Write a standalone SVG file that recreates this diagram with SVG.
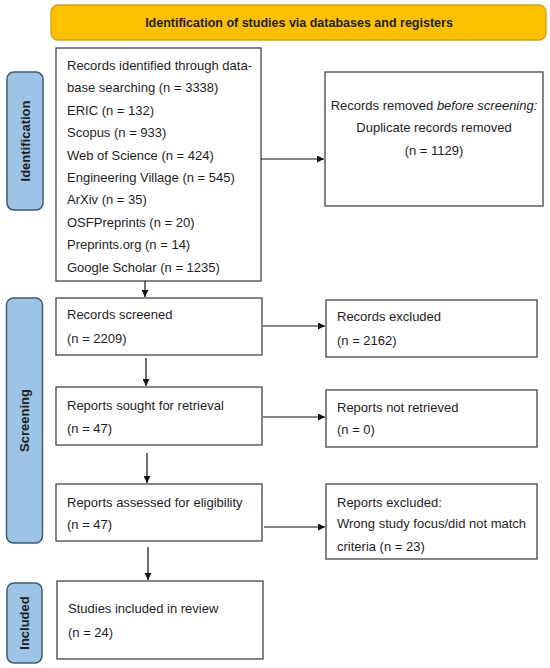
<svg xmlns="http://www.w3.org/2000/svg" width="550" height="668" viewBox="0 0 550 668">
<defs>
<marker id="ah" viewBox="0 0 10 10" refX="10" refY="5" markerWidth="7" markerHeight="7" markerUnits="userSpaceOnUse" orient="auto">
<path d="M0,0 L10,5 L0,10 z" fill="#111"/>
</marker>
<style>
.box{fill:#fff;stroke:#444;stroke-width:1.3}
.side{fill:#9DC3E6;stroke:#3F5873;stroke-width:1.5}
.hdr{fill:#FFC000;stroke:#D1A21A;stroke-width:1.3}
text{font-family:"Liberation Sans",Arial,sans-serif;font-size:13px;fill:#1e1e1e}
.b{font-weight:bold}
.c{text-anchor:middle}
.conn{stroke:#111;stroke-width:1.2;fill:none;marker-end:url(#ah)}
</style>
</defs>
<rect width="550" height="668" fill="#fff"/>
<g id="header">
<rect class="hdr" x="51" y="5" width="495" height="35" rx="7"/>
<text class="b c" x="299" y="27" style="font-size:12.5px">Identification of studies via databases and registers</text>
</g>
<g id="side-identification">
<rect class="side" x="7" y="72" width="36" height="138" rx="7"/>
<text class="b c" transform="translate(29.5,141) rotate(-90)">Identification</text>
</g>
<g id="side-screening">
<rect class="side" x="6.5" y="298" width="36" height="245" rx="7"/>
<text class="b c" transform="translate(29,420.5) rotate(-90)">Screening</text>
</g>
<g id="side-included">
<rect class="side" x="7" y="583" width="35" height="80" rx="7"/>
<text class="b c" transform="translate(29,623) rotate(-90)">Included</text>
</g>
<g id="records-identified">
<rect class="box" x="56" y="48" width="205" height="233"/>
<text x="67" y="70">Records identified through data-</text>
<text x="67" y="92.4">base searching (n = 3338)</text>
<text x="67" y="114.8">ERIC (n = 132)</text>
<text x="67" y="137.2">Scopus (n = 933)</text>
<text x="67" y="159.6">Web of Science (n = 424)</text>
<text x="67" y="182">Engineering Village (n = 545)</text>
<text x="67" y="204.4">ArXiv (n = 35)</text>
<text x="67" y="226.8">OSFPreprints (n = 20)</text>
<text x="67" y="249.2">Preprints.org (n = 14)</text>
<text x="67" y="271.6">Google Scholar (n = 1235)</text>
</g>
<g id="records-removed">
<rect class="box" x="325" y="72" width="218" height="134"/>
<text class="c" x="434" y="109.5">Records removed <tspan font-style="italic">before screening:</tspan></text>
<text class="c" x="434" y="132">Duplicate records removed</text>
<text class="c" x="434" y="154.5">(n = 1129)</text>
</g>
<g id="records-screened">
<rect class="box" x="56" y="298" width="206" height="57"/>
<text x="67" y="318.5">Records screened</text>
<text x="67" y="342.5">(n = 2209)</text>
</g>
<g id="records-excluded">
<rect class="box" x="326" y="300" width="211" height="57"/>
<text x="337" y="320.5">Records excluded</text>
<text x="337" y="344.5">(n = 2162)</text>
</g>
<g id="reports-sought">
<rect class="box" x="56" y="387" width="206" height="58"/>
<text x="67" y="409.5">Reports sought for retrieval</text>
<text x="67" y="432.5">(n = 47)</text>
</g>
<g id="reports-not-retrieved">
<rect class="box" x="326" y="390" width="211" height="57"/>
<text x="337" y="411.5">Reports not retrieved</text>
<text x="337" y="433.5">(n = 0)</text>
</g>
<g id="reports-assessed">
<rect class="box" x="56" y="484" width="206" height="57"/>
<text x="67" y="506.5">Reports assessed for eligibility</text>
<text x="67" y="528.5">(n = 47)</text>
</g>
<g id="reports-excluded">
<rect class="box" x="326" y="484" width="211" height="75"/>
<text x="337" y="506.5">Reports excluded:</text>
<text x="337" y="528">Wrong study focus/did not match</text>
<text x="337" y="551">criteria (n = 23)</text>
</g>
<g id="studies-included">
<rect class="box" x="57" y="581" width="206" height="78"/>
<text x="68" y="612.5">Studies included in review</text>
<text x="68" y="636.5">(n = 24)</text>
</g>
<g id="connectors">
<line class="conn" x1="145" y1="281" x2="145" y2="297"/>
<line class="conn" x1="261" y1="159" x2="324" y2="159"/>
<line class="conn" x1="263" y1="326" x2="325" y2="326"/>
<line class="conn" x1="146" y1="358" x2="146" y2="386"/>
<line class="conn" x1="263" y1="417" x2="325" y2="417"/>
<line class="conn" x1="147" y1="453" x2="147" y2="483"/>
<line class="conn" x1="264" y1="527" x2="325" y2="527"/>
<line class="conn" x1="148" y1="547" x2="148" y2="580"/>
</g>
</svg>
